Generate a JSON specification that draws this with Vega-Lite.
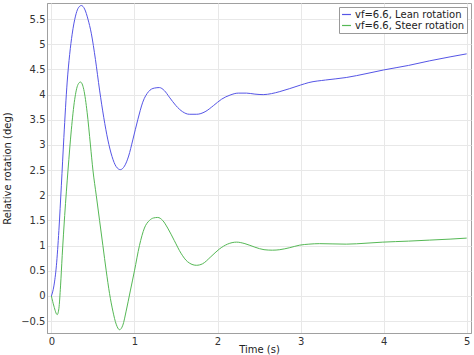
{
  "$schema": "https://vega.github.io/schema/vega-lite/v6.json",
  "width": 424,
  "height": 330,
  "autosize": {"type": "none"},
  "padding": {"left": 47, "top": 3, "right": 3, "bottom": 22},
  "background": "white",
  "config": {
    "font": "DejaVu Sans",
    "view": {"stroke": "#a0a0a0", "strokeWidth": 1},
    "axis": {
      "labelFont": "DejaVu Sans",
      "titleFont": "DejaVu Sans",
      "labelFontSize": 10,
      "titleFontSize": 10,
      "labelColor": "#333333",
      "titleColor": "#222222",
      "titleFontWeight": "normal",
      "gridColor": "#e8e8e8",
      "domainColor": "#a0a0a0",
      "ticks": false,
      "labelPadding": 3,
      "format": "~g"
    }
  },
  "data": {
    "values": [
      {"t": 0, "v": 0, "s": "vf=6.6, Lean rotation"},
      {"t": 0.03, "v": 0.2, "s": "vf=6.6, Lean rotation"},
      {"t": 0.06, "v": 0.6, "s": "vf=6.6, Lean rotation"},
      {"t": 0.09, "v": 1.3, "s": "vf=6.6, Lean rotation"},
      {"t": 0.12, "v": 2.2, "s": "vf=6.6, Lean rotation"},
      {"t": 0.15, "v": 3.15, "s": "vf=6.6, Lean rotation"},
      {"t": 0.19, "v": 4.25, "s": "vf=6.6, Lean rotation"},
      {"t": 0.22, "v": 4.8, "s": "vf=6.6, Lean rotation"},
      {"t": 0.25, "v": 5.2, "s": "vf=6.6, Lean rotation"},
      {"t": 0.29, "v": 5.56, "s": "vf=6.6, Lean rotation"},
      {"t": 0.32, "v": 5.71, "s": "vf=6.6, Lean rotation"},
      {"t": 0.36, "v": 5.77, "s": "vf=6.6, Lean rotation"},
      {"t": 0.40, "v": 5.7, "s": "vf=6.6, Lean rotation"},
      {"t": 0.44, "v": 5.5, "s": "vf=6.6, Lean rotation"},
      {"t": 0.48, "v": 5.22, "s": "vf=6.6, Lean rotation"},
      {"t": 0.53, "v": 4.7, "s": "vf=6.6, Lean rotation"},
      {"t": 0.58, "v": 4.09, "s": "vf=6.6, Lean rotation"},
      {"t": 0.63, "v": 3.55, "s": "vf=6.6, Lean rotation"},
      {"t": 0.68, "v": 3.1, "s": "vf=6.6, Lean rotation"},
      {"t": 0.73, "v": 2.77, "s": "vf=6.6, Lean rotation"},
      {"t": 0.78, "v": 2.57, "s": "vf=6.6, Lean rotation"},
      {"t": 0.83, "v": 2.51, "s": "vf=6.6, Lean rotation"},
      {"t": 0.88, "v": 2.58, "s": "vf=6.6, Lean rotation"},
      {"t": 0.93, "v": 2.78, "s": "vf=6.6, Lean rotation"},
      {"t": 0.98, "v": 3.1, "s": "vf=6.6, Lean rotation"},
      {"t": 1.04, "v": 3.5, "s": "vf=6.6, Lean rotation"},
      {"t": 1.10, "v": 3.85, "s": "vf=6.6, Lean rotation"},
      {"t": 1.17, "v": 4.06, "s": "vf=6.6, Lean rotation"},
      {"t": 1.24, "v": 4.13, "s": "vf=6.6, Lean rotation"},
      {"t": 1.30, "v": 4.14, "s": "vf=6.6, Lean rotation"},
      {"t": 1.36, "v": 4.08, "s": "vf=6.6, Lean rotation"},
      {"t": 1.42, "v": 3.95, "s": "vf=6.6, Lean rotation"},
      {"t": 1.50, "v": 3.78, "s": "vf=6.6, Lean rotation"},
      {"t": 1.58, "v": 3.66, "s": "vf=6.6, Lean rotation"},
      {"t": 1.66, "v": 3.61, "s": "vf=6.6, Lean rotation"},
      {"t": 1.75, "v": 3.61, "s": "vf=6.6, Lean rotation"},
      {"t": 1.85, "v": 3.66, "s": "vf=6.6, Lean rotation"},
      {"t": 1.95, "v": 3.78, "s": "vf=6.6, Lean rotation"},
      {"t": 2.05, "v": 3.91, "s": "vf=6.6, Lean rotation"},
      {"t": 2.15, "v": 3.99, "s": "vf=6.6, Lean rotation"},
      {"t": 2.25, "v": 4.03, "s": "vf=6.6, Lean rotation"},
      {"t": 2.35, "v": 4.03, "s": "vf=6.6, Lean rotation"},
      {"t": 2.45, "v": 4.01, "s": "vf=6.6, Lean rotation"},
      {"t": 2.55, "v": 4.0, "s": "vf=6.6, Lean rotation"},
      {"t": 2.65, "v": 4.02, "s": "vf=6.6, Lean rotation"},
      {"t": 2.75, "v": 4.06, "s": "vf=6.6, Lean rotation"},
      {"t": 2.87, "v": 4.12, "s": "vf=6.6, Lean rotation"},
      {"t": 3.0, "v": 4.19, "s": "vf=6.6, Lean rotation"},
      {"t": 3.1, "v": 4.24, "s": "vf=6.6, Lean rotation"},
      {"t": 3.3, "v": 4.29, "s": "vf=6.6, Lean rotation"},
      {"t": 3.55, "v": 4.34, "s": "vf=6.6, Lean rotation"},
      {"t": 3.8, "v": 4.42, "s": "vf=6.6, Lean rotation"},
      {"t": 4.0, "v": 4.49, "s": "vf=6.6, Lean rotation"},
      {"t": 4.3, "v": 4.58, "s": "vf=6.6, Lean rotation"},
      {"t": 4.55, "v": 4.67, "s": "vf=6.6, Lean rotation"},
      {"t": 4.8, "v": 4.75, "s": "vf=6.6, Lean rotation"},
      {"t": 5.0, "v": 4.81, "s": "vf=6.6, Lean rotation"},
      {"t": 0, "v": 0, "s": "vf=6.6, Steer rotation"},
      {"t": 0.03, "v": -0.2, "s": "vf=6.6, Steer rotation"},
      {"t": 0.07, "v": -0.37, "s": "vf=6.6, Steer rotation"},
      {"t": 0.09, "v": -0.25, "s": "vf=6.6, Steer rotation"},
      {"t": 0.11, "v": 0.2, "s": "vf=6.6, Steer rotation"},
      {"t": 0.13, "v": 0.8, "s": "vf=6.6, Steer rotation"},
      {"t": 0.16, "v": 1.6, "s": "vf=6.6, Steer rotation"},
      {"t": 0.20, "v": 2.5, "s": "vf=6.6, Steer rotation"},
      {"t": 0.24, "v": 3.3, "s": "vf=6.6, Steer rotation"},
      {"t": 0.28, "v": 3.9, "s": "vf=6.6, Steer rotation"},
      {"t": 0.32, "v": 4.2, "s": "vf=6.6, Steer rotation"},
      {"t": 0.35, "v": 4.25, "s": "vf=6.6, Steer rotation"},
      {"t": 0.39, "v": 4.1, "s": "vf=6.6, Steer rotation"},
      {"t": 0.43, "v": 3.65, "s": "vf=6.6, Steer rotation"},
      {"t": 0.47, "v": 3.0, "s": "vf=6.6, Steer rotation"},
      {"t": 0.50, "v": 2.5, "s": "vf=6.6, Steer rotation"},
      {"t": 0.54, "v": 2.0, "s": "vf=6.6, Steer rotation"},
      {"t": 0.58, "v": 1.5, "s": "vf=6.6, Steer rotation"},
      {"t": 0.62, "v": 1.0, "s": "vf=6.6, Steer rotation"},
      {"t": 0.66, "v": 0.5, "s": "vf=6.6, Steer rotation"},
      {"t": 0.70, "v": 0.05, "s": "vf=6.6, Steer rotation"},
      {"t": 0.74, "v": -0.3, "s": "vf=6.6, Steer rotation"},
      {"t": 0.78, "v": -0.56, "s": "vf=6.6, Steer rotation"},
      {"t": 0.82, "v": -0.67, "s": "vf=6.6, Steer rotation"},
      {"t": 0.86, "v": -0.58, "s": "vf=6.6, Steer rotation"},
      {"t": 0.90, "v": -0.3, "s": "vf=6.6, Steer rotation"},
      {"t": 0.95, "v": 0.1, "s": "vf=6.6, Steer rotation"},
      {"t": 1.0, "v": 0.5, "s": "vf=6.6, Steer rotation"},
      {"t": 1.06, "v": 1.0, "s": "vf=6.6, Steer rotation"},
      {"t": 1.12, "v": 1.35, "s": "vf=6.6, Steer rotation"},
      {"t": 1.18, "v": 1.5, "s": "vf=6.6, Steer rotation"},
      {"t": 1.23, "v": 1.55, "s": "vf=6.6, Steer rotation"},
      {"t": 1.28, "v": 1.56, "s": "vf=6.6, Steer rotation"},
      {"t": 1.34, "v": 1.5, "s": "vf=6.6, Steer rotation"},
      {"t": 1.40, "v": 1.35, "s": "vf=6.6, Steer rotation"},
      {"t": 1.48, "v": 1.1, "s": "vf=6.6, Steer rotation"},
      {"t": 1.56, "v": 0.85, "s": "vf=6.6, Steer rotation"},
      {"t": 1.64, "v": 0.68, "s": "vf=6.6, Steer rotation"},
      {"t": 1.745, "v": 0.61, "s": "vf=6.6, Steer rotation"},
      {"t": 1.82, "v": 0.64, "s": "vf=6.6, Steer rotation"},
      {"t": 1.92, "v": 0.78, "s": "vf=6.6, Steer rotation"},
      {"t": 2.02, "v": 0.93, "s": "vf=6.6, Steer rotation"},
      {"t": 2.12, "v": 1.03, "s": "vf=6.6, Steer rotation"},
      {"t": 2.23, "v": 1.07, "s": "vf=6.6, Steer rotation"},
      {"t": 2.33, "v": 1.04, "s": "vf=6.6, Steer rotation"},
      {"t": 2.45, "v": 0.97, "s": "vf=6.6, Steer rotation"},
      {"t": 2.56, "v": 0.92, "s": "vf=6.6, Steer rotation"},
      {"t": 2.66, "v": 0.91, "s": "vf=6.6, Steer rotation"},
      {"t": 2.75, "v": 0.92, "s": "vf=6.6, Steer rotation"},
      {"t": 2.87, "v": 0.96, "s": "vf=6.6, Steer rotation"},
      {"t": 2.99, "v": 1.01, "s": "vf=6.6, Steer rotation"},
      {"t": 3.1, "v": 1.03, "s": "vf=6.6, Steer rotation"},
      {"t": 3.23, "v": 1.04, "s": "vf=6.6, Steer rotation"},
      {"t": 3.55, "v": 1.03, "s": "vf=6.6, Steer rotation"},
      {"t": 3.8, "v": 1.05, "s": "vf=6.6, Steer rotation"},
      {"t": 3.99, "v": 1.07, "s": "vf=6.6, Steer rotation"},
      {"t": 4.3, "v": 1.09, "s": "vf=6.6, Steer rotation"},
      {"t": 4.55, "v": 1.11, "s": "vf=6.6, Steer rotation"},
      {"t": 4.8, "v": 1.13, "s": "vf=6.6, Steer rotation"},
      {"t": 5.0, "v": 1.15, "s": "vf=6.6, Steer rotation"}
    ]
  },
  "mark": {"type": "line", "interpolate": "monotone", "strokeWidth": 1, "clip": true},
  "encoding": {
    "x": {
      "field": "t",
      "type": "quantitative",
      "title": "Time (s)",
      "scale": {"domain": [-0.053, 5.052], "nice": false, "zero": false},
      "axis": {"values": [0, 1, 2, 3, 4, 5], "labelPadding": 3, "titleY": 19, "titleBaseline": "alphabetic"}
    },
    "y": {
      "field": "v",
      "type": "quantitative",
      "title": "Relative rotation (deg)",
      "scale": {"domain": [-0.735, 5.82], "nice": false, "zero": false},
      "axis": {
        "values": [-0.5, 0, 0.5, 1, 1.5, 2, 2.5, 3, 3.5, 4, 4.5, 5, 5.5],
        "titlePadding": 8,
        "labelPadding": 2
      }
    },
    "color": {
      "field": "s",
      "type": "nominal",
      "scale": {
        "domain": ["vf=6.6, Lean rotation", "vf=6.6, Steer rotation"],
        "range": ["#5555e6", "#55b855"]
      },
      "legend": {
        "title": null,
        "orient": "top-right",
        "offset": 4,
        "symbolType": "stroke",
        "symbolSize": 80,
        "symbolStrokeWidth": 1.2,
        "labelFontSize": 10,
        "labelFont": "DejaVu Sans",
        "labelColor": "#222222",
        "fillColor": "white",
        "strokeColor": "#999999",
        "padding": 2,
        "rowPadding": 0,
        "labelOffset": 3,
        "labelLimit": 200
      }
    }
  }
}
